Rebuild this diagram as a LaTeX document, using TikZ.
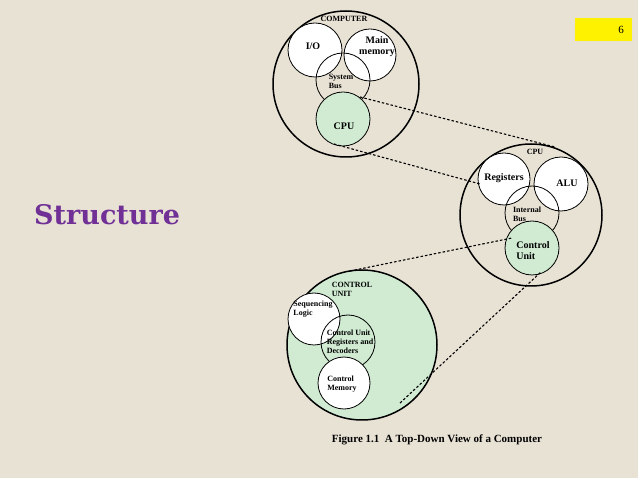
\documentclass[tikz,border=0pt]{standalone}
\usepackage{fontspec}
\setmainfont{Liberation Serif}
\newfontfamily\slab{DejaVu Serif}
\begin{document}
\begin{tikzpicture}[x=1pt,y=-1pt,
  circ/.style={circle,draw,thick,inner sep=0pt},
  big/.style={circle,draw,line width=1.5pt,inner sep=0pt},
  lab/.style={font=\bfseries\fontsize{10}{11}\selectfont,align=left,inner sep=0pt},
  slab/.style={font=\bfseries\fontsize{8}{9}\selectfont,align=left,inner sep=0pt},
  dl/.style={line width=1.1pt,dash pattern=on 2.5pt off 2pt}]
\definecolor{bg}{RGB}{232,226,212}
\definecolor{gr}{RGB}{208,235,210}
\definecolor{pur}{RGB}{112,48,150}
\fill[bg] (0,0) rectangle (638,478);
\useasboundingbox (0,0) rectangle (638,478);
% computer
\node[big,minimum size=146pt] (comp) at (346,84) {};
\node[circ,fill=white,minimum size=54pt] (io) at (315,50) {};
\node[circ,fill=white,minimum size=52pt] (mm) at (370,55) {};
\node[circ,minimum size=54pt] (sb) at (343,80) {};
\node[circ,fill=gr,minimum size=54pt] (cpu) at (343,119) {};
\node[lab] at (313,46) {I/O};
\node[lab,align=center] at (377,47) {Main\\memory};
\node[slab] at (341,81) {System\\Bus};
\node[lab] at (344,126) {CPU};
\node[slab] at (344,19) {COMPUTER};
% cpu
\node[big,minimum size=142pt] (cpub) at (531,215) {};
\node[circ,fill=white,minimum size=52pt] (reg) at (504,179) {};
\node[circ,fill=white,minimum size=54pt] (alu) at (561,184) {};
\node[circ,minimum size=54pt] (ib) at (532,213) {};
\node[circ,fill=gr,minimum size=54pt] (cu) at (532,248) {};
\node[lab] at (504,178) {Registers};
\node[lab] at (567,183) {ALU};
\node[slab] at (527,214) {Internal\\Bus};
\node[lab] at (533,251) {Control\\Unit};
\node[slab] at (535,152) {CPU};
% control unit
\node[big,fill=gr,minimum size=150pt] (cub) at (362,345) {};
\node[circ,fill=white,minimum size=52pt] (seq) at (314,319) {};
\node[circ,minimum size=54pt] (cur) at (348,342) {};
\node[circ,fill=white,minimum size=52pt] (cm) at (344,383) {};
\node[slab] at (313,309) {Sequencing\\Logic};
\node[slab] at (350,342) {Control Unit\\Registers and\\Decoders};
\node[slab] at (342,384) {Control\\Memory};
\node[slab] at (352,289) {CONTROL\\UNIT};
% dashed
\coordinate (a1) at (360,97);
\coordinate (a2) at (555,147);
\coordinate (b1) at (334,144);
\coordinate (b2) at (480,184);
\coordinate (c1) at (350,271);
\coordinate (c2) at (512,238);
\coordinate (d1) at (400,403);
\coordinate (d2) at (541,272);
\draw[dl] (a1)--(a2); \draw[dl] (b1)--(b2); \draw[dl] (c1)--(c2); \draw[dl] (d1)--(d2);
% misc
\fill[yellow] (575,18) rectangle (632,41);
\node[font=\fontsize{11}{12}\selectfont] at (621,30) {6};
\node[font=\slab\bfseries\fontsize{27}{30}\selectfont,text=pur,anchor=west,inner sep=0pt] (st) at (34,215) {Structure};
\node[font=\bfseries\fontsize{11}{13}\selectfont] (cap) at (437,440) {Figure 1.1\ \ A Top-Down View of a Computer};
\end{tikzpicture}
\end{document}
